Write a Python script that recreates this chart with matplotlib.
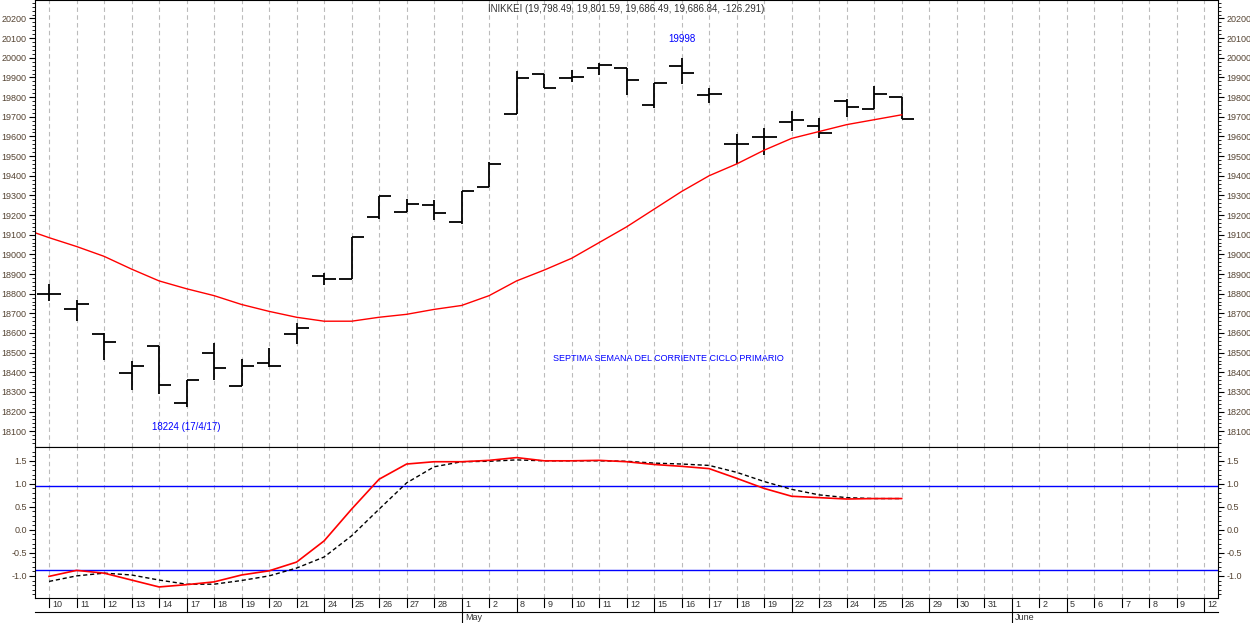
import numpy as np
import matplotlib.pyplot as plt
from matplotlib.transforms import blended_transform_factory

plt.rcParams["font.family"] = ["Liberation Sans Narrow", "Liberation Sans", "DejaVu Sans"]

days = ["10", "11", "12", "13", "14", "17", "18", "19", "20", "21", "24", "25", "26", "27", "28",
        "1", "2", "8", "9", "10", "11", "12", "15", "16", "17", "18", "19", "22", "23", "24", "25", "26",
        "29", "30", "31", "1", "2", "5", "6", "7", "8", "9", "12"]
week_starts = [5, 10, 15, 17, 22, 27, 32, 35, 37, 42]
months = {15: "May", 35: "June"}

opens = [18800, 18720, 18593, 18395, 18532, 18242, 18497, 18329, 18446, 18593, 18890, 18873,
         19192, 19214, 19250, 19164, 19341, 19715, 19917, 19898, 19947, 19947, 19759, 19957,
         19813, 19561, 19599, 19674, 19654, 19780, 19742, 19798.49]
highs = [18849, 18768, 18598, 18458, 18532, 18359, 18547, 18466, 18522, 18649, 18907, 19088,
         19295, 19283, 19278, 19320, 19469, 19934, 19917, 19940, 19975, 19947, 19872, 19998,
         19846, 19610, 19641, 19730, 19696, 19792, 19856, 19801.59]
lows = [18764, 18663, 18463, 18310, 18290, 18224, 18361, 18329, 18429, 18544, 18842, 18873,
        19182, 19214, 19177, 19157, 19341, 19715, 19846, 19877, 19910, 19813, 19747, 19868,
        19770, 19460, 19506, 19627, 19594, 19700, 19742, 19686.49]
closes = [18797, 18747, 18553, 18430, 18334, 18359, 18420, 18430, 18430, 18624, 18873, 19088,
          19295, 19258, 19208, 19320, 19459, 19897, 19846, 19902, 19963, 19888, 19872, 19922,
          19818, 19561, 19599, 19686, 19619, 19750, 19814, 19686.84]
ma = [19085, 19040, 18990, 18925, 18865, 18825, 18790, 18745, 18710, 18680, 18660, 18660,
      18680, 18695, 18720, 18740, 18790, 18865, 18920, 18980, 19060, 19140, 19230, 19320,
      19400, 19460, 19530, 19590, 19625, 19660, 19685, 19710]
osc_red = [-1.01, -0.88, -0.94, -1.09, -1.24, -1.19, -1.13, -0.98, -0.89, -0.70, -0.24, 0.45,
           1.10, 1.43, 1.48, 1.48, 1.51, 1.57, 1.50, 1.50, 1.51, 1.48, 1.42, 1.38, 1.33, 1.12,
           0.90, 0.73, 0.70, 0.67, 0.68, 0.68]
osc_black = [-1.12, -1.00, -0.94, -0.98, -1.09, -1.18, -1.18, -1.10, -1.00, -0.83, -0.59, -0.13,
             0.45, 1.02, 1.37, 1.48, 1.49, 1.52, 1.50, 1.50, 1.50, 1.49, 1.45, 1.43, 1.40, 1.25,
             1.05, 0.88, 0.76, 0.70, 0.68, 0.68]
upper_level, lower_level = 0.96, -0.87

tick_col = "#554433"
fs = 6.5
fig = plt.figure(figsize=(12.5, 6.23), dpi=100)
W, H = 1250, 623
ax = fig.add_axes([35 / W, 176 / H, 1183 / W, 447 / H])
ax2 = fig.add_axes([35 / W, 25 / H, 1183 / W, 151 / H])
xlim = (-0.51, 42.5)
x = np.arange(len(opens))

for a in (ax, ax2):
    a.set_xlim(*xlim)
    for i in range(len(days)):
        a.axvline(i, color="#bbbbbb", ls=(0, (4, 3)), lw=0.8, zorder=0)
    a.set_xticks([])
    a.tick_params(axis="y", which="both", labelsize=fs, labelcolor=tick_col, right=True, labelright=True,
                  direction="out", length=4, pad=2)
    a.tick_params(axis="y", which="minor", length=2)
    for s in a.spines.values():
        s.set_linewidth(0.8)

# price panel
ax.set_ylim(18020, 20294)
ax.set_yticks(np.arange(18100, 20201, 100))
ax.set_yticks(np.arange(18040, 20294, 20), minor=True)
w = 0.45
ax.vlines(x, lows, highs, color="black", lw=1.3)
ax.hlines(opens, x - w, x, color="black", lw=1.3)
ax.hlines(closes, x, x + w, color="black", lw=1.3)
ax.plot(np.concatenate([[-0.51], x]), [ma[0] + 25] + ma, color="red", lw=1)
ax.text(0.5, 0.992, "INIKKEI (19,798.49, 19,801.59, 19,686.49, 19,686.84, -126.291)", transform=ax.transAxes,
        ha="center", va="top", fontsize=7, color="#333333")
ax.text(23, 20080, "19998", color="blue", fontsize=7, ha="center")
ax.text(5, 18105, "18224 (17/4/17)", color="blue", fontsize=7, ha="center")
ax.text(22.5, 18455, "SEPTIMA SEMANA DEL CORRIENTE CICLO PRIMARIO", color="blue", fontsize=6.5, ha="center")

# oscillator panel
ax2.set_ylim(-1.48, 1.80)
ax2.set_yticks([-1.0, -0.5, 0.0, 0.5, 1.0, 1.5])
ax2.set_yticks(np.arange(-1.4, 1.8, 0.1), minor=True)
ax2.yaxis.set_major_formatter(plt.FuncFormatter(lambda v, p: f"{v:.1f}"))
ax2.axhline(upper_level, color="blue", lw=1)
ax2.axhline(lower_level, color="blue", lw=1)
ax2.plot(x, osc_black, color="black", ls=(0, (3, 2)), lw=1)
ax2.plot(x, osc_red, color="red", lw=1.2)

# date axis below
tr = blended_transform_factory(ax2.transData, ax2.transAxes)
ax2.plot([xlim[0], xlim[1]], [-0.093, -0.093], transform=tr, color="black", lw=0.8, clip_on=False)
for i, d in enumerate(days):
    top = -0.093 if i in week_starts else -0.06
    ax2.plot([i, i], [0, top], transform=tr, color="black", lw=0.8, clip_on=False)
    ax2.text(i + 0.12, -0.015, d, transform=tr, fontsize=6.5, va="top", color="#333333")
for i, m in months.items():
    ax2.plot([i, i], [-0.093, -0.17], transform=tr, color="black", lw=0.8, clip_on=False)
    ax2.text(i + 0.12, -0.1, m, transform=tr, fontsize=6.5, va="top", color="#333333")

fig.savefig("out.png", dpi=100)
